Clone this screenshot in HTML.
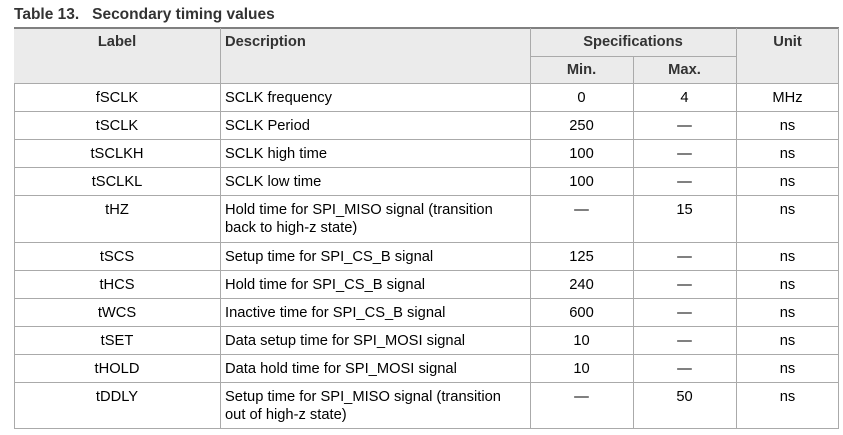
<!DOCTYPE html><html><head><style>
body{margin:0;width:843px;height:435px;background:#fff;font-family:"Liberation Sans",sans-serif;font-size:14.7px;color:#000;position:relative;overflow:hidden}
.t{position:absolute;left:14px;top:6px;font-weight:bold;font-size:15.5px;color:#333}
.b{position:absolute}
.h{position:absolute;height:1px;background:#aaa}
.v{position:absolute;width:1px;background:#aaa}
.c{position:absolute;line-height:18px;white-space:nowrap}
.hd{font-weight:bold;color:#333}
</style></head><body>
<div class="t">Table 13.&nbsp;&nbsp;&nbsp;Secondary timing values</div>
<div class="b" style="left:14px;top:28px;width:825px;height:55px;background:#ebebeb"></div>
<div class="h" style="left:14px;top:27px;width:825px;height:2px;background:#808080"></div>
<div class="h" style="left:530px;top:56px;width:206px"></div>
<div class="h" style="left:14px;top:83px;width:825px"></div>
<div class="h" style="left:14px;top:111px;width:825px"></div>
<div class="h" style="left:14px;top:139px;width:825px"></div>
<div class="h" style="left:14px;top:167px;width:825px"></div>
<div class="h" style="left:14px;top:195px;width:825px"></div>
<div class="h" style="left:14px;top:242px;width:825px"></div>
<div class="h" style="left:14px;top:270px;width:825px"></div>
<div class="h" style="left:14px;top:298px;width:825px"></div>
<div class="h" style="left:14px;top:326px;width:825px"></div>
<div class="h" style="left:14px;top:354px;width:825px"></div>
<div class="h" style="left:14px;top:382px;width:825px"></div>
<div class="h" style="left:14px;top:428px;width:825px"></div>
<div class="v" style="left:14px;top:83px;height:346px"></div>
<div class="v" style="left:220px;top:28px;height:401px"></div>
<div class="v" style="left:530px;top:28px;height:401px"></div>
<div class="v" style="left:633px;top:56px;height:373px"></div>
<div class="v" style="left:736px;top:28px;height:401px"></div>
<div class="v" style="left:838px;top:28px;height:401px"></div>
<div class="c hd" style="left:14px;width:206px;text-align:center;top:33px">Label</div>
<div class="c hd" style="left:225px;top:33px">Description</div>
<div class="c hd" style="left:530px;width:206px;text-align:center;top:33px">Specifications</div>
<div class="c hd" style="left:736px;width:103px;text-align:center;top:33px">Unit</div>
<div class="c hd" style="left:530px;width:103px;text-align:center;top:61px">Min.</div>
<div class="c hd" style="left:633px;width:103px;text-align:center;top:61px">Max.</div>
<div id="rows"></div>
<script>
var r=[[83,"fSCLK","SCLK frequency","0","4","MHz"],[111,"tSCLK","SCLK Period","250","—","ns"],[139,"tSCLKH","SCLK high time","100","—","ns"],[167,"tSCLKL","SCLK low time","100","—","ns"],[195,"tHZ","Hold time for SPI_MISO signal (transition<br>back to high-z state)","—","15","ns"],[242,"tSCS","Setup time for SPI_CS_B signal","125","—","ns"],[270,"tHCS","Hold time for SPI_CS_B signal","240","—","ns"],[298,"tWCS","Inactive time for SPI_CS_B signal","600","—","ns"],[326,"tSET","Data setup time for SPI_MOSI signal","10","—","ns"],[354,"tHOLD","Data hold time for SPI_MOSI signal","10","—","ns"],[382,"tDDLY","Setup time for SPI_MISO signal (transition<br>out of high-z state)","—","50","ns"]];
var h="";r.forEach(function(a){var t=a[0]+6;
h+='<div class="c" style="left:14px;width:206px;text-align:center;top:'+t+'px">'+a[1]+'</div>';
h+='<div class="c" style="left:225px;top:'+t+'px">'+a[2]+'</div>';
h+='<div class="c" style="left:530px;width:103px;text-align:center;top:'+t+'px">'+a[3]+'</div>';
h+='<div class="c" style="left:633px;width:103px;text-align:center;top:'+t+'px">'+a[4]+'</div>';
h+='<div class="c" style="left:736px;width:103px;text-align:center;top:'+t+'px">'+a[5]+'</div>';});
document.getElementById("rows").innerHTML=h;
</script>
</body></html>
